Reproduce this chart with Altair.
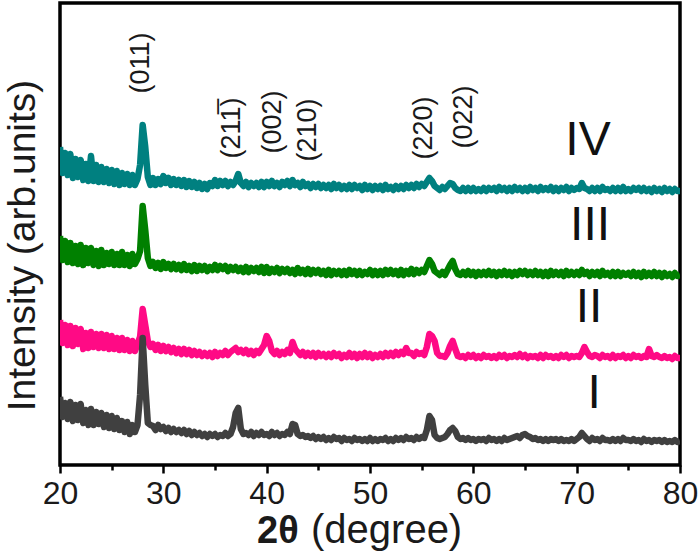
import altair as alt
import pandas as pd

# 2-theta sampling grid (degrees), 0.25 deg steps from 20 to 80
theta = [20 + 0.25 * i for i in range(241)]

# Diffracted intensity (arb. units, stacked offsets included), one value per grid point
sample_I = [
    68, 48, 62, 46, 63, 44, 60, 45, 61, 42, 55, 40, 56, 40, 53, 41,
    52, 38, 50, 37, 49, 36, 47, 35, 44, 33, 43, 31, 40, 33, 40, 70,
    127, 80, 42, 40, 39, 35, 40, 36, 38, 34, 37, 33, 36, 33, 35, 32,
    35, 31, 34, 30, 33, 30, 32, 29, 31, 28, 31, 29, 31, 28, 30, 29,
    32, 29, 31, 38, 52, 57, 36, 31, 32, 30, 33, 29, 32, 30, 33, 30,
    31, 29, 33, 30, 32, 29, 31, 30, 33, 31, 41, 40, 31, 29, 30, 28,
    29, 27, 29, 26, 28, 26, 28, 25, 27, 25, 28, 26, 27, 24, 27, 25,
    26, 24, 27, 25, 26, 24, 26, 24, 27, 24, 26, 24, 26, 25, 27, 24,
    26, 24, 27, 25, 27, 25, 28, 26, 27, 25, 28, 26, 28, 27, 35, 49,
    45, 30, 27, 26, 27, 28, 31, 35, 37, 34, 28, 26, 27, 25, 27, 25,
    26, 24, 26, 25, 26, 24, 27, 25, 26, 24, 26, 24, 27, 25, 26, 27,
    28, 29, 27, 30, 31, 29, 28, 26, 27, 25, 26, 24, 26, 24, 26, 25,
    26, 24, 26, 24, 25, 24, 26, 24, 26, 28, 32, 29, 26, 24, 27, 25,
    26, 24, 27, 25, 25, 24, 26, 24, 26, 24, 27, 25, 25, 24, 26, 24,
    25, 23, 26, 24, 25, 23, 25, 24, 25, 23, 25, 23, 24, 23, 25, 23,
    24,
]

sample_II = [
    145, 122, 140, 120, 139, 119, 137, 121, 136, 116, 132, 117, 133, 118, 131, 117,
    131, 117, 130, 116, 129, 116, 127, 115, 127, 115, 125, 114, 124, 114, 121, 128,
    156, 140, 124, 118, 121, 115, 120, 114, 119, 114, 118, 113, 117, 112, 116, 111,
    116, 111, 115, 110, 114, 110, 113, 109, 112, 109, 112, 108, 113, 109, 112, 110,
    114, 110, 113, 115, 117, 113, 115, 112, 115, 111, 114, 110, 114, 112, 116, 120,
    129, 124, 114, 111, 114, 110, 113, 111, 115, 112, 123, 116, 113, 110, 113, 109,
    112, 109, 112, 108, 112, 109, 111, 108, 111, 108, 112, 109, 111, 107, 110, 108,
    112, 108, 111, 107, 111, 108, 112, 108, 111, 107, 110, 108, 111, 108, 112, 109,
    112, 109, 113, 110, 113, 111, 117, 112, 112, 109, 113, 111, 112, 110, 118, 131,
    129, 124, 112, 109, 109, 108, 112, 119, 124, 116, 109, 108, 109, 107, 110, 108,
    110, 107, 109, 107, 110, 108, 109, 107, 109, 107, 110, 108, 110, 107, 109, 108,
    110, 108, 111, 108, 110, 107, 109, 108, 109, 107, 110, 107, 110, 108, 109, 107,
    109, 107, 110, 108, 110, 107, 109, 108, 109, 108, 112, 118, 113, 109, 108, 110,
    109, 107, 110, 108, 109, 107, 110, 107, 109, 108, 110, 107, 109, 107, 110, 108,
    109, 107, 109, 108, 116, 109, 108, 110, 108, 107, 109, 107, 108, 106, 109, 107,
    107,
]

sample_III = [
    229, 205, 224, 203, 222, 202, 219, 201, 220, 200, 217, 202, 217, 200, 214, 199,
    215, 200, 212, 201, 213, 200, 211, 200, 213, 200, 210, 199, 211, 201, 206, 214,
    259, 235, 207, 199, 203, 197, 202, 196, 203, 197, 201, 196, 201, 196, 200, 195,
    201, 195, 199, 194, 200, 194, 199, 195, 199, 194, 198, 195, 200, 195, 199, 196,
    199, 194, 198, 195, 198, 194, 197, 193, 198, 193, 197, 194, 197, 193, 198, 192,
    198, 192, 196, 193, 197, 192, 196, 193, 196, 192, 195, 191, 197, 192, 195, 191,
    196, 191, 195, 192, 195, 191, 194, 190, 195, 190, 194, 191, 194, 190, 194, 190,
    195, 191, 194, 190, 194, 190, 193, 191, 195, 190, 194, 190, 194, 190, 195, 191,
    195, 191, 194, 190, 195, 190, 194, 191, 196, 191, 195, 192, 195, 193, 199, 205,
    201, 194, 192, 190, 193, 190, 195, 200, 204, 196, 191, 190, 193, 190, 194, 190,
    193, 189, 193, 190, 193, 190, 194, 190, 193, 189, 193, 190, 194, 190, 193, 189,
    193, 190, 194, 191, 194, 190, 193, 190, 194, 190, 193, 189, 193, 189, 194, 190,
    193, 190, 193, 189, 194, 190, 193, 190, 193, 190, 195, 191, 193, 189, 193, 190,
    193, 189, 194, 190, 192, 189, 193, 189, 193, 189, 192, 190, 192, 189, 193, 189,
    192, 188, 193, 189, 192, 189, 193, 189, 192, 188, 192, 189, 191, 188, 192, 189,
    190,
]

sample_IV = [
    318, 292, 312, 290, 311, 287, 306, 288, 305, 285, 301, 284, 309, 284, 300, 283,
    298, 283, 296, 282, 295, 281, 294, 280, 292, 281, 291, 280, 290, 280, 286, 300,
    340, 318, 288, 280, 287, 280, 286, 281, 289, 282, 287, 280, 286, 280, 285, 279,
    285, 278, 284, 278, 283, 277, 282, 276, 281, 276, 282, 279, 285, 279, 284, 280,
    284, 279, 283, 280, 284, 291, 282, 279, 283, 278, 282, 279, 282, 278, 283, 278,
    283, 279, 284, 279, 282, 278, 283, 280, 284, 279, 285, 280, 282, 278, 283, 279,
    281, 277, 281, 278, 281, 277, 280, 277, 280, 276, 281, 277, 280, 276, 279, 276,
    280, 276, 280, 277, 279, 275, 280, 276, 279, 275, 279, 276, 279, 275, 280, 276,
    278, 275, 279, 276, 279, 276, 280, 277, 280, 277, 281, 278, 281, 279, 283, 287,
    284, 279, 277, 275, 278, 276, 279, 282, 281, 277, 275, 274, 277, 274, 277, 274,
    277, 274, 276, 274, 277, 274, 277, 275, 277, 274, 278, 275, 277, 274, 277, 274,
    278, 275, 277, 274, 277, 274, 278, 275, 277, 274, 278, 275, 277, 275, 278, 274,
    277, 274, 277, 275, 278, 274, 277, 275, 277, 276, 282, 277, 276, 274, 277, 274,
    277, 274, 278, 275, 276, 274, 277, 274, 277, 274, 278, 274, 276, 274, 277, 275,
    277, 274, 277, 274, 276, 273, 277, 274, 276, 273, 277, 274, 276, 273, 276, 274,
    274,
]

# Curves drawn back to front, so the lowest pattern sits on top
series = [
    ("IV", sample_IV, "#008080"),
    ("III", sample_III, "#008000"),
    ("II", sample_II, "#ff0a85"),
    ("I", sample_I, "#404040"),
]

# Reflection indices written above the peaks
hkl_labels = ["(011)", "(211\u0305)", "(002)", "(210)", "(220)", "(022)"]
hkl_theta = [27.85, 36.65, 40.6, 44.0, 55.2, 59.1]
hkl_height = [402, 337, 343, 335, 337, 348]

# Sample names beside each curve
sample_names = ["IV", "III", "II", "I"]
name_theta = [71.1, 71.3, 71.2, 71.7]
name_height = [310, 225, 143, 57]

FONT = "Arial"

x_scale = alt.Scale(domain=[20, 80], nice=False, zero=False)
y_scale = alt.Scale(domain=[0, 462], nice=False, zero=False)

x_axis = alt.Axis(
    values=list(range(20, 81, 5)),
    labelExpr="datum.value % 10 == 0 ? datum.label : ''",
    tickSize={"condition": {"test": "datum.value % 10 != 0", "value": 5}, "value": 8},
    tickWidth=2.5,
    tickColor="black",
    domain=False,
    grid=False,
    labelFont=FONT,
    labelFontSize=32,
    labelColor="#1a1a1a",
    labelPadding=5,
    labelFlush=False,
    labelOverlap=False,
    title=None,
)
y_axis = alt.Axis(
    labels=False,
    ticks=False,
    domain=False,
    grid=False,
    title="Intensity (arb.units)",
    titleFont=FONT,
    titleFontSize=39,
    titleFontWeight="normal",
    titleColor="#1a1a1a",
    titlePadding=18,
    titleY=242,
)

enc_x = lambda field: alt.X(f"{field}:Q", scale=x_scale, axis=x_axis)
enc_y = lambda field: alt.Y(f"{field}:Q", scale=y_scale, axis=y_axis)

layers = []
for name, values, color in series:
    df = pd.DataFrame({"theta": theta, "intensity": values})
    layers.append(
        alt.Chart(df)
        .mark_line(color=color, strokeWidth=6.5, strokeJoin="round", strokeCap="butt", clip=True)
        .encode(x=enc_x("theta"), y=enc_y("intensity"))
    )

hkl_df = pd.DataFrame({"label": hkl_labels, "theta": hkl_theta, "h": hkl_height})
hkl = (
    alt.Chart(hkl_df)
    .mark_text(angle=270, font=FONT, fontSize=27, color="#1a1a1a", align="center", baseline="middle")
    .encode(x=enc_x("theta"), y=enc_y("h"), text="label:N")
)

names_df = pd.DataFrame({"label": sample_names, "theta": name_theta, "h": name_height})
names = (
    alt.Chart(names_df)
    .mark_text(font=FONT, fontSize=48, color="#111111", align="center", baseline="alphabetic")
    .encode(x=enc_x("theta"), y=enc_y("h"), text="label:N")
)

# x-axis title: bold "2θ" followed by a regular-weight unit
xtitle_bold = (
    alt.Chart(pd.DataFrame({"t": ["2θ"]}))
    .mark_text(font=FONT, fontSize=38, fontWeight="bold", color="#1a1a1a", align="left", baseline="alphabetic")
    .encode(x=alt.value(197), y=alt.value(540), text="t:N")
)
xtitle_unit = (
    alt.Chart(pd.DataFrame({"t": ["(degree)"]}))
    .mark_text(font=FONT, fontSize=40, color="#1a1a1a", align="left", baseline="alphabetic")
    .encode(x=alt.value(251), y=alt.value(540), text="t:N")
)

chart = (
    alt.layer(*layers, hkl, names, xtitle_bold, xtitle_unit)
    .properties(
        width=620,
        height=462,
        autosize=alt.AutoSizeParams(type="none"),
        padding={"left": 60, "top": 3, "right": 20, "bottom": 93},
        background="white",
    )
    .configure_view(stroke="black", strokeWidth=3.5)
)

chart.save("out.html", embed_options={"renderer": "svg", "actions": False})
